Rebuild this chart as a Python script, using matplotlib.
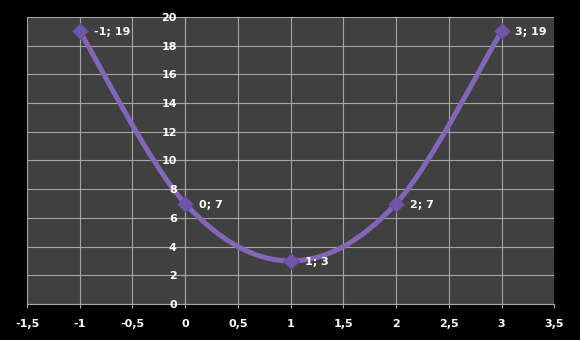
import matplotlib.pyplot as plt
import numpy as np
from matplotlib.path import Path
from matplotlib.patches import PathPatch

x_vals = [-1, 0, 1, 2, 3]
y_vals = [19, 7, 3, 7, 19]
x_ticks = [-1.5, -1, -0.5, 0, 0.5, 1, 1.5, 2, 2.5, 3, 3.5]
y_ticks = [0, 2, 4, 6, 8, 10, 12, 14, 16, 18, 20]

line_col = "#8466b8"
marker_col = "#7155a6"
font = "DejaVu Sans"

fig = plt.figure(figsize=(5.8, 3.4), dpi=100, facecolor="black")
ax = fig.add_axes([0.0466, 0.106, 0.909, 0.844])
ax.set_facecolor("#404040")

# smoothed line (Excel style) built as bezier segments through the points
pts = np.column_stack([x_vals, y_vals]).astype(float)
ext = np.vstack([pts[0], pts, pts[-1]])
verts = [tuple(pts[0])]
codes = [Path.MOVETO]
for i in range(len(pts) - 1):
    p0, p1, p2, p3 = ext[i], ext[i + 1], ext[i + 2], ext[i + 3]
    c1 = p1 + (p2 - p0) / 6
    c2 = p2 - (p3 - p1) / 6
    verts += [tuple(c1), tuple(c2), tuple(p2)]
    codes += [Path.CURVE4] * 3
ax.add_patch(PathPatch(Path(verts, codes), fill=False, edgecolor=line_col,
                       lw=3.6, capstyle="round", zorder=3))

ax.plot(x_vals, y_vals, ls="none", marker="D", ms=8.5, color=marker_col,
        mec="#62479a", mew=0.6, zorder=4)

for xv, yv in zip(x_vals, y_vals):
    ax.annotate(f"{xv}; {yv}", (xv, yv), xytext=(10, 0), textcoords="offset points",
                ha="left", va="center_baseline", color="white", fontsize=8,
                fontweight="bold", family=font, zorder=5)

ax.set_xlim(-1.5, 3.5)
ax.set_ylim(0, 20)
ax.set_xticks(x_ticks)
ax.set_yticks(y_ticks)
ax.set_xticklabels([f"{t:g}".replace(".", ",") for t in x_ticks])
ax.set_yticklabels([])
ax.grid(True, color="#a6a6a6", lw=0.8)
ax.set_axisbelow(True)

# y labels drawn as text so they sit above the curve, like in Excel
for t in y_ticks:
    ax.annotate(str(t), (0, t), xytext=(-6, 0), textcoords="offset points",
                ha="right", va="center_baseline", color="white", fontsize=8,
                fontweight="bold", family=font, zorder=6, annotation_clip=False)

ax.spines["left"].set_position(("data", 0))
ax.spines["left"].set_color("#a6a6a6")
ax.spines["bottom"].set_color("#a6a6a6")
ax.spines["top"].set_visible(False)
ax.spines["right"].set_visible(False)

ax.tick_params(axis="both", colors="#a6a6a6", labelcolor="white",
               labelsize=8, length=3, direction="out")
ax.tick_params(axis="x", pad=8)
for lab in ax.get_xticklabels():
    lab.set_fontweight("bold")
    lab.set_family(font)

fig.savefig("out.png", dpi=100, facecolor="black")
